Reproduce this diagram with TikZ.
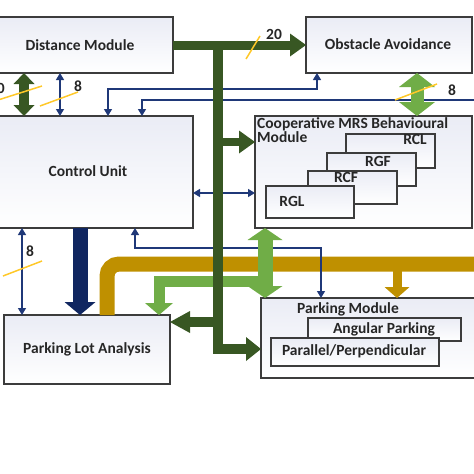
\documentclass[tikz,border=0pt]{standalone}
\usepackage{fontspec}
\setmainfont{Carlito}
\usetikzlibrary{arrows.meta}
\definecolor{dkgreen}{RGB}{56,87,35}
\definecolor{limeg}{RGB}{112,173,71}
\definecolor{goldc}{RGB}{191,144,0}
\definecolor{navyc}{RGB}{16,38,96}
\definecolor{bluel}{RGB}{31,56,120}
\definecolor{yel}{RGB}{255,200,40}
\definecolor{boxtop}{RGB}{234,236,245}
\definecolor{edgec}{RGB}{60,60,60}
\begin{document}
\begin{tikzpicture}[x=1pt,y=-1pt, font=\fontsize{15.5}{17}\selectfont\bfseries,
  box/.style={draw=edgec, line width=1.2pt, top color=boxtop, bottom color=white, inner sep=0pt, outer sep=0pt},
  txt/.style={inner sep=0pt, text=black!85},
  thinb/.style={draw=bluel, line width=1.3pt, >={Triangle[width=8pt,length=7pt]}},
  fatg/.style={draw=dkgreen, line width=9pt, >={Triangle[width=23pt,length=16pt,line width=0pt]}},
  fatl/.style={draw=limeg, line width=13pt},
  slash/.style={draw=yel, line width=1.5pt}]
\useasboundingbox (0,0) rectangle (474,474);
\clip (0,0) rectangle (474,474);
% coordinates
\coordinate (xA) at (24,0);
\coordinate (xB) at (60,0);
\coordinate (xC) at (108,0);
\coordinate (xD) at (142,0);
\coordinate (xE) at (317,0);
\coordinate (xF) at (417,0);
\coordinate (xG) at (107,0);
\coordinate (xH) at (397,0);
\coordinate (xK) at (135,0);
\coordinate (xL) at (321,0);
\coordinate (xM) at (265,0);
\coordinate (xN) at (80,0);
\coordinate (xP) at (159,0);
\coordinate (xQ) at (22,0);
\coordinate (xR) at (480,0);
\coordinate (bx) at (218,0);
\coordinate (y41) at (0,41);
\coordinate (y89) at (0,89);
\coordinate (y100) at (0,100);
\coordinate (y142) at (0,142);
\coordinate (y193) at (0,193);
\coordinate (y248) at (0,248);
\coordinate (gy) at (0,264);
\coordinate (y281) at (0,281);
\coordinate (y322) at (0,322);
\coordinate (y349) at (0,349);
% boxes
\node[box, anchor=north west, minimum width=193pt, minimum height=56pt] (dm) at (-20,17) {};
\node[txt] (dmt) at (80,45) {Distance Module};
\node[box, anchor=north west, minimum width=166pt, minimum height=56pt] (oa) at (306,17) {};
\node[txt] (oat) at (388,44) {Obstacle Avoidance};
\node[box, anchor=north west, minimum width=213pt, minimum height=112pt] (cu) at (-20,116) {};
\node[txt] (cut) at (88,171) {Control Unit};
\node[box, anchor=north west, minimum width=217pt, minimum height=112pt] (mrs) at (255,116) {};
\node[txt, anchor=north west, align=left, font=\fontsize{15.5}{12.5}\selectfont\bfseries] (mrst) at (257,117) {Cooperative MRS Behavioural\\Module};
\node[box, anchor=north west, minimum width=89pt, minimum height=34pt] (rcl) at (346,134) {};
\node[txt] (rclt) at (415,139) {RCL};
\node[box, anchor=north west, minimum width=89pt, minimum height=33pt] (rgf) at (327,153) {};
\node[txt] (rgft) at (378,161) {RGF};
\node[box, anchor=north west, minimum width=89pt, minimum height=33pt] (rcf) at (308,171) {};
\node[txt] (rcft) at (346,177) {RCF};
\node[box, anchor=north west, minimum width=88pt, minimum height=32pt] (rgl) at (266,186) {};
\node[txt] (rglt) at (292,201) {RGL};
\node[box, anchor=north west, minimum width=166pt, minimum height=69pt] (pla) at (4,315) {};
\node[txt] (plat) at (87,349) {Parking Lot Analysis};
\node[box, anchor=north west, minimum width=215pt, minimum height=80pt] (pm) at (261,298) {};
\node[txt] (pmt) at (348,309) {Parking Module};
\node[box, anchor=north west, minimum width=153pt, minimum height=23pt] (ap) at (308,318) {};
\node[txt] (apt) at (384,329) {Angular Parking};
\node[box, anchor=north west, minimum width=168pt, minimum height=28pt] (pp) at (271,338) {};
\node[txt] (ppt) at (354,351) {Parallel/Perpendicular};
% gold bus
\draw[draw=goldc, line width=15pt, rounded corners=12pt] (xR |- gy) -- (xG |- gy) -- (xG |- pla.north);
\draw[draw=goldc, line width=9pt, ->, >={Triangle[width=25pt,length=11pt,line width=0pt]}] (xH |- gy) -- (xH |- pm.north);
% thin blue connectors
\draw[thinb, <->] (xB |- dm.south) -- (xB |- cu.north);
\draw[thinb, <->] (xC |- cu.north) -- (xC |- y89) -- (xE |- y89) -- (xE |- oa.south);
\draw[thinb, <-] (xD |- cu.north) -- (xD |- y100) -- (xR |- y100);
\draw[thinb, <->] (cu.east |- y193) -- (mrs.west |- y193);
\draw[thinb, <->] (xK |- cu.south) -- (xK |- y248) -- (xL |- y248) -- (xL |- pm.north);
\draw[thinb, <->] (xQ |- cu.south) -- (xQ |- pla.north);
% lime arrows
\draw[fatl, <->, >={Triangle[width=36pt,length=14pt,line width=0pt]}] (xF |- oa.south) -- (xF |- mrs.north);
\draw[fatl, line width=11pt, ->, >={Triangle[width=28pt,length=12pt,line width=0pt]}] (xM |- y281) -| (xP |- pla.north);
\draw[fatl, line width=15pt, <->, >={Triangle[width=35pt,length=12pt,line width=0pt]}] (xM |- mrs.south) -- (xM |- pm.north);
% navy fat arrow
\draw[draw=navyc, line width=15pt, ->, >={Triangle[width=31pt,length=13pt,line width=0pt]}] (xN |- cu.south) -- (xN |- pla.north);
% dark green
\draw[fatg, line width=10pt, <->, >={Triangle[width=21pt,length=11pt,line width=0pt]}] (xA |- dm.south) -- (xA |- cu.north);
\draw[fatg, ->] (dm.east) -- (oa.west);
\draw[fatg, line width=8pt, ->] (bx |- y142) -- (mrs.west |- y142);
\draw[fatg, line width=10pt, ->, >={Triangle[width=22pt,length=20pt,line width=0pt]}] (bx |- y322) -- (pla.east |- y322);
\draw[fatg, line width=10pt, ->, >={Triangle[width=24pt,length=15pt,line width=0pt]}] (bx |- y41) -- (bx |- y349) -- (pm.west |- y349);
% slashes
\draw[slash] (246,59) -- (260,36);
\draw[slash] (-2,100) -- (42,86);
\draw[slash] (40,106) -- (78,92);
\draw[slash] (395,100) -- (437,84);
\draw[slash] (3,276) -- (42,261);
% labels
\node[txt] (l20a) at (274,34) {20};
\node[txt, anchor=east] (l20b) at (5,88) {20};
\node[txt] (l8a) at (78,86) {8};
\node[txt] (l8b) at (452,90) {8};
\node[txt] (l8c) at (30,251) {8};
\end{tikzpicture}
\end{document}
